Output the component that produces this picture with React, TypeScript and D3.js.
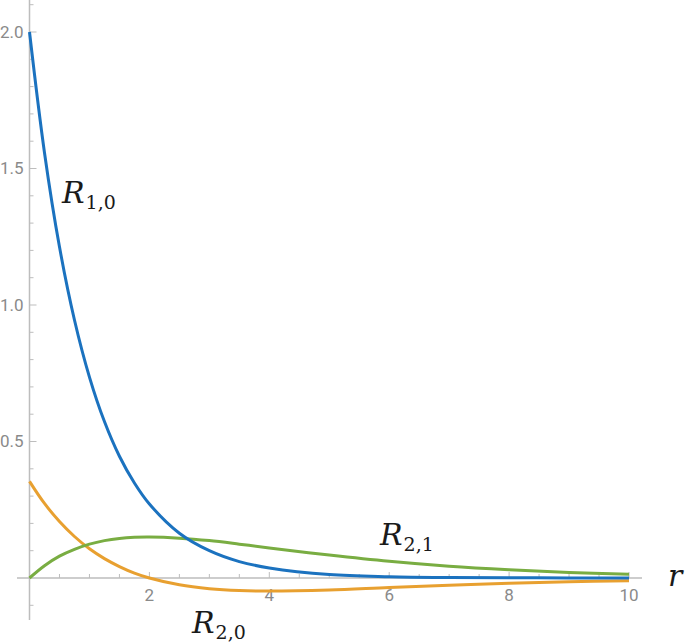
import React from "react";
import * as d3 from "d3";

// radial positions (r) the values were read at
const rValues = [0, 0.25, 0.5, 0.75, 1, 1.25, 1.5, 1.75, 2, 2.5, 3, 3.5, 4, 5, 6, 7, 8, 9, 10];

const r10 = [2.0, 1.558, 1.213, 0.945, 0.736, 0.573, 0.446, 0.348, 0.271, 0.164, 0.1, 0.06, 0.037, 0.013, 0.005, 0.002, 0.001, 0.0, 0.0];
const r20 = [0.354, 0.273, 0.207, 0.152, 0.107, 0.071, 0.042, 0.018, 0.0, -0.025, -0.039, -0.046, -0.048, -0.044, -0.035, -0.027, -0.019, -0.014, -0.01];
const r21 = [0.0, 0.045, 0.08, 0.105, 0.124, 0.137, 0.145, 0.149, 0.15, 0.146, 0.137, 0.124, 0.11, 0.084, 0.061, 0.043, 0.03, 0.02, 0.014];

const yMajor = [0.5, 1.0, 1.5, 2.0];
const yMinor = [-0.1, 0.1, 0.2, 0.3, 0.4, 0.6, 0.7, 0.8, 0.9, 1.1, 1.2, 1.3, 1.4, 1.6, 1.7, 1.8, 1.9, 2.1];
const xMajor = [2, 4, 6, 8, 10];
const xMinor = [0.5, 1, 1.5, 2.5, 3, 3.5, 4.5, 5, 5.5, 6.5, 7, 7.5, 8.5, 9, 9.5];

const W = 685;
const H = 643;

const SANS = "Roboto, 'Liberation Sans', sans-serif";
const SERIF = "'DejaVu Serif', serif";

const App = () => {
  const x = d3.scaleLinear().domain([0, 10]).range([29.5, 629]);
  const y = d3.scaleLinear().domain([0, 2]).range([578, 32]);

  const line = (vals: number[]) =>
    d3
      .line<number>()
      .x((_, i) => x(rValues[i]))
      .y((d) => y(d))
      .curve(d3.curveCatmullRom)(vals) || "";

  const axisColor = "#bdbdbd";
  const tickText = "#8a8a8a";
  const x0 = x(0);
  const y0 = y(0);

  const label = (lx: number, ly: number, sub: string) => (
    <text x={lx} y={ly} fontFamily={SERIF} fill="#1a1a1a">
      <tspan fontSize={30} fontStyle="italic">R</tspan>
      <tspan dy={6} dx={1} fontSize={19}>{sub}</tspan>
    </text>
  );

  return (
    <svg
      width={W}
      height={H}
      viewBox={`0 0 ${W} ${H}`}
      style={{ position: "absolute", left: 0, top: 0, background: "#fff" }}
    >
      {/* axes */}
      <line x1={x0} x2={x0} y1={0} y2={620} stroke={axisColor} strokeWidth={1.5} />
      <line x1={17} x2={642} y1={y0} y2={y0} stroke={axisColor} strokeWidth={1.5} />

      {/* y ticks */}
      {yMinor.map((v) => (
        <line key={"ym" + v} x1={x0} x2={x0 + 4} y1={y(v)} y2={y(v)} stroke={axisColor} strokeWidth={1} />
      ))}
      {yMajor.map((v) => (
        <g key={"yM" + v}>
          <line x1={x0} x2={x0 + 7} y1={y(v)} y2={y(v)} stroke={axisColor} strokeWidth={1} />
          <text x={x0 - 6} y={y(v)} dy="0.35em" textAnchor="end" fill={tickText} fontFamily={SANS} fontSize={17}>
            {v.toFixed(1)}
          </text>
        </g>
      ))}

      {/* x ticks */}
      {xMinor.map((v) => (
        <line key={"xm" + v} x1={x(v)} x2={x(v)} y1={y0} y2={y0 - 4} stroke={axisColor} strokeWidth={1} />
      ))}
      {xMajor.map((v) => (
        <g key={"xM" + v}>
          <line x1={x(v)} x2={x(v)} y1={y0} y2={y0 - 6} stroke={axisColor} strokeWidth={1} />
          <text x={x(v)} y={601} textAnchor="middle" fill={tickText} fontFamily={SANS} fontSize={17}>
            {v}
          </text>
        </g>
      ))}

      {/* curves */}
      <path d={line(r20)} fill="none" stroke="#e8a030" strokeWidth={3} />
      <path d={line(r21)} fill="none" stroke="#79ad42" strokeWidth={3} />
      <path d={line(r10)} fill="none" stroke="#1b72bf" strokeWidth={3} />

      {/* labels */}
      {label(62, 203, "1,0")}
      {label(380, 545, "2,1")}
      {label(192, 633, "2,0")}
      <text x={668} y={586} fontFamily={SERIF} fontSize={30} fontStyle="italic" fill="#1a1a1a">
        r
      </text>
    </svg>
  );
};

export default App;
